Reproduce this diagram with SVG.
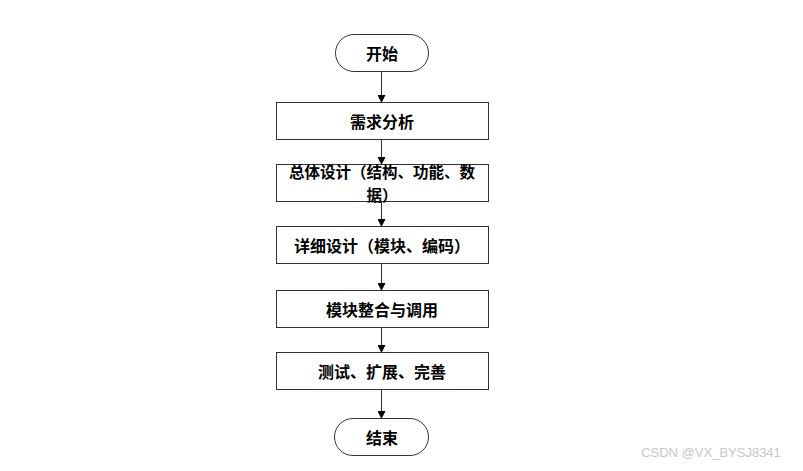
<svg xmlns="http://www.w3.org/2000/svg" width="803" height="471" viewBox="0 0 803 471">
<style>
.box{fill:#fff;stroke:#333;stroke-width:1}
.t{font-family:"Noto Sans CJK SC","Liberation Sans",sans-serif;font-size:16px;font-weight:bold;fill:#000;text-anchor:middle;dominant-baseline:central}
.c{stroke:#333;stroke-width:1;fill:none;marker-end:url(#ah)}
</style>
<defs>
<marker id="ah" markerWidth="8" markerHeight="8" refX="7" refY="4" orient="auto" markerUnits="userSpaceOnUse">
<path d="M0,0 L8,4 L0,8 Z" fill="#000"/>
</marker>
</defs>
<rect width="803" height="471" fill="#fff"/>
<g id="connectors">
<line class="c" x1="381.5" y1="72" x2="381.5" y2="102"/>
<line class="c" x1="381.5" y1="140" x2="381.5" y2="164"/>
<line class="c" x1="381.5" y1="202" x2="381.5" y2="226"/>
<line class="c" x1="381.5" y1="264" x2="381.5" y2="290"/>
<line class="c" x1="381.5" y1="327" x2="381.5" y2="352"/>
<line class="c" x1="381.5" y1="389" x2="381.5" y2="418"/>
</g>
<g id="start">
<rect class="box" x="335.5" y="34.5" width="93" height="37" rx="18.5"/>
<text class="t" x="382" y="53">开始</text>
</g>
<g id="n1">
<rect class="box" x="276.5" y="102.5" width="212" height="37"/>
<text class="t" x="382" y="121">需求分析</text>
</g>
<g id="n2">
<rect class="box" x="276.5" y="164.5" width="212" height="37"/>
<text class="t" x="382" y="171" style="font-size:15.5px"><tspan x="382">总体设计（结构、功能、数</tspan><tspan x="382" dy="22.5">据）</tspan></text>
</g>
<g id="n3">
<rect class="box" x="276.5" y="226.5" width="212" height="37"/>
<text class="t" x="382" y="245">详细设计（模块、编码）</text>
</g>
<g id="n4">
<rect class="box" x="276.5" y="290.5" width="212" height="37"/>
<text class="t" x="382" y="309">模块整合与调用</text>
</g>
<g id="n5">
<rect class="box" x="276.5" y="352.5" width="212" height="37"/>
<text class="t" x="382" y="371">测试、扩展、完善</text>
</g>
<g id="end">
<rect class="box" x="334.5" y="418.5" width="94" height="37" rx="18.5"/>
<text class="t" x="382" y="437">结束</text>
</g>
<text x="711" y="457" font-family="Liberation Sans,sans-serif" font-size="13" fill="#c8c8c8" text-anchor="middle">CSDN @VX_BYSJ8341</text>
</svg>
